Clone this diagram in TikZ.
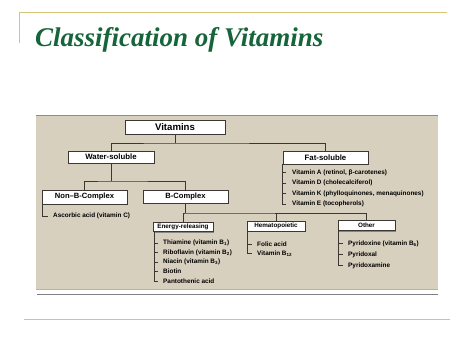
\documentclass[tikz,border=0pt]{standalone}
\usepackage{fontspec}
\setmainfont{Liberation Serif}
\setsansfont{Liberation Sans}
\usetikzlibrary{shadows}
\definecolor{gold}{RGB}{214,196,120}
\definecolor{panel}{RGB}{216,208,191}
\definecolor{titlegreen}{RGB}{22,100,58}
\definecolor{lined}{RGB}{60,55,50}
\tikzset{
  box/.style={draw=lined, line width=0.4pt, fill=white, inner sep=0pt,
    font=\sffamily\bfseries, drop shadow={shadow xshift=1.3pt, shadow yshift=-1.3pt, fill=black!60, opacity=0.7}},
  item/.style={anchor=west, inner sep=0pt, font=\sffamily\bfseries\fontsize{6.4}{7}\selectfont},
  conn/.style={draw=lined, line width=0.6pt},
}
\begin{document}
\begin{tikzpicture}[x=1pt,y=-1pt]
\useasboundingbox (0,0) rectangle (474,355);
% slide decoration
\draw[gold, line width=0.8pt] (19,43) -- (19,12) -- (447,12);
\draw[gold, line width=0.8pt] (24,319) -- (450,319);
\node[anchor=base west, inner sep=0pt, text=titlegreen, font=\fontsize{27}{30}\selectfont\bfseries\itshape] (title) at (35,46.5) {Classification of Vitamins};
% panel
\fill[panel] (36,115) rectangle (438,289);
\draw[black!45, line width=0.9pt] (36,115.5) -- (438,115.5);
\draw[black!30, line width=0.3pt] (36,289) -- (438,289);
\draw[black!50, line width=0.9pt] (37,294) -- (438,294);
% boxes
\node[box, minimum width=100pt, minimum height=14pt, font=\sffamily\bfseries\fontsize{9.6}{11}\selectfont] (vit) at (175,127) {Vitamins};
\node[box, minimum width=86pt, minimum height=12pt, font=\sffamily\bfseries\fontsize{7.8}{9}\selectfont] (ws) at (111,157) {Water-soluble};
\node[box, minimum width=85pt, minimum height=13pt, font=\sffamily\bfseries\fontsize{7.8}{9}\selectfont] (fs) at (325.5,157.5) {Fat-soluble};
\node[box, minimum width=85pt, minimum height=14pt, font=\sffamily\bfseries\fontsize{7.6}{9}\selectfont] (nbc) at (84.5,197) {Non–B-Complex};
\node[box, minimum width=85pt, minimum height=13pt, font=\sffamily\bfseries\fontsize{7.6}{9}\selectfont] (bc) at (185.5,196.5) {B-Complex};
\node[box, minimum width=60pt, minimum height=9.5pt, font=\sffamily\bfseries\fontsize{6.3}{7}\selectfont] (er) at (183,226.5) {Energy-releasing};
\node[box, minimum width=58pt, minimum height=10pt, font=\sffamily\bfseries\fontsize{6.3}{7}\selectfont] (hem) at (276,226) {Hematopoietic};
\node[box, minimum width=57pt, minimum height=10pt, font=\sffamily\bfseries\fontsize{6.3}{7}\selectfont] (oth) at (366.5,225.5) {Other};
% bus coordinates
\coordinate (b1) at (175,143);
\coordinate (b2) at (111,181);
\coordinate (b3) at (185.5,213);
\draw[conn] (vit.south) -- (b1);
\draw[conn] (ws.north) |- (b1) -| (fs.north);
\draw[conn] (ws.south) -- (b2);
\draw[conn] (nbc.north) |- (b2) -| (bc.north);
\draw[conn] (bc.south) -- (b3);
\draw[conn] (er.north) |- (b3) -| (oth.north);
\draw[conn] (hem.north) -- (hem.north |- b3);
% Non-B-Complex list
\node[item] (asc) at (53,216) {Ascorbic acid (vitamin C)};
\coordinate (nbl) at (42.5,204);
\draw[conn] (nbl) |- ([xshift=-5pt]asc.west);
% Fat-soluble list
\node[item] (fa) at (292,172.5) {Vitamin A (retinol, β-carotenes)};
\node[item] (fd) at (292,183) {Vitamin D (cholecalciferol)};
\node[item] (fk) at (292,193.5) {Vitamin K (phylloquinones, menaquinones)};
\node[item] (fe) at (292,204) {Vitamin E (tocopherols)};
\coordinate (fsl) at (282,164);
\draw[conn] (fsl) |- ([xshift=-6pt]fe.west);
\foreach \n in {fa,fd,fk} \draw[conn] (fsl |- \n.west) -- ([xshift=-6pt]\n.west);
% Energy-releasing list
\node[item] (e1) at (163,243) {Thiamine (vitamin B\textsubscript{1})};
\node[item] (e2) at (163,252.5) {Riboflavin (vitamin B\textsubscript{2})};
\node[item] (e3) at (163,262) {Niacin (vitamin B\textsubscript{3})};
\node[item] (e4) at (163,271.5) {Biotin};
\node[item] (e5) at (163,281) {Pantothenic acid};
\coordinate (erl) at (154,231.3);
\draw[conn] (erl) |- ([xshift=-5pt]e5.west);
\foreach \n in {e1,e2,e3,e4} \draw[conn] (erl |- \n.west) -- ([xshift=-5pt]\n.west);
% Hematopoietic list
\node[item] (h1) at (257,244) {Folic acid};
\node[item] (h2) at (257,253.5) {Vitamin B\textsubscript{12}};
\coordinate (hl) at (247.5,231);
\draw[conn] (hl) |- ([xshift=-5pt]h2.west);
\draw[conn] (hl |- h1.west) -- ([xshift=-5pt]h1.west);
% Other list
\node[item] (o1) at (348,243.5) {Pyridoxine (vitamin B\textsubscript{6})};
\node[item] (o2) at (348,254.5) {Pyridoxal};
\node[item] (o3) at (348,265.5) {Pyridoxamine};
\coordinate (ol) at (338.5,230.5);
\draw[conn] (ol) |- ([xshift=-5pt]o3.west);
\foreach \n in {o1,o2} \draw[conn] (ol |- \n.west) -- ([xshift=-5pt]\n.west);
\end{tikzpicture}
\end{document}
